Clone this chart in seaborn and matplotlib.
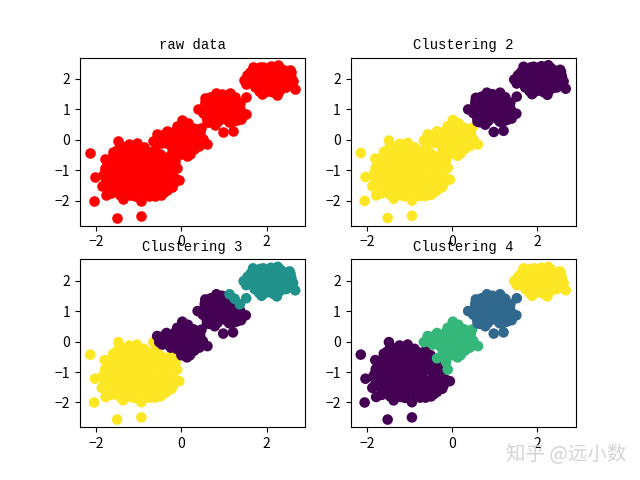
import matplotlib
matplotlib.use("Agg")
import matplotlib.pyplot as plt
import seaborn as sns

# lower left blob
lower_x = [-2.14, -2.03, -2.05, -1.51, -0.94, -1.78, -1.87, -1.80, -1.48, -1.23, -1.04, -1.37, -0.94, -0.49, -0.23, -0.05, -0.35,
           -1.62, -1.33, -1.12, -0.88, -0.66, -0.44, -1.70, -1.48, -1.27, -1.02, -0.74, -0.56, -0.30,
           -1.76, -1.53, -1.31, -1.08, -0.84, -0.61, -0.37, -0.19, -1.82, -1.58, -1.41, -1.16, -0.93, -0.70, -0.46, -0.26,
           -1.79, -1.56, -1.34, -1.09, -0.86, -0.59, -0.41, -1.64, -1.46, -1.21, -1.00, -0.76, -0.53, -0.36,
           -1.55, -1.31, -1.06, -0.83, -0.61, -1.52, -1.25, -0.99, -0.80, -1.45, -1.42, -1.18, -0.72, -1.67, -1.39,
           -1.58, -1.22, -1.00, -0.78, -0.55, -1.60, -1.37, -1.14, -0.90, -0.65, -0.42, -1.66, -1.44, -1.20, -0.96, -0.75, -0.50, -0.30,
           -1.70, -1.47, -1.24, -1.02, -0.78, -0.52, -0.33, -1.68, -1.50, -1.27, -1.03, -0.80, -0.63, -0.47, -1.55, -1.33, -1.13, -0.92, -0.68, -0.50,
           -1.42, -1.18, -0.92, -0.70, -1.38, -1.12, -0.88, -0.66, -1.62, -1.20, -0.75, -0.42, -1.45, -1.10, -0.62,
           -0.30, -0.15, -0.25, -0.42, -0.50, -0.20, -0.35, -0.60, -1.85, -1.80, -1.75, -1.65, -1.60, -1.65, -1.45, -0.62, -0.28]
lower_y = [-0.43, -1.22, -2.00, -2.56, -2.49, -1.82, -1.52, -0.61, -0.02, -0.13, -0.10, -1.93, -1.99, -1.80, -1.55, -1.30, -0.72,
           -1.72, -1.68, -1.74, -1.70, -1.75, -1.66, -1.50, -1.54, -1.46, -1.52, -1.48, -1.55, -1.44,
           -1.28, -1.33, -1.26, -1.31, -1.24, -1.34, -1.27, -1.38, -1.08, -1.12, -1.04, -1.10, -1.06, -1.13, -1.02, -1.16,
           -0.91, -0.86, -0.93, -0.88, -0.84, -0.92, -0.87, -0.72, -0.68, -0.74, -0.66, -0.71, -0.76, -0.92,
           -0.52, -0.47, -0.55, -0.49, -0.58, -0.33, -0.28, -0.31, -0.35, -0.18, -0.90, -0.60, -0.90, -1.20, -1.42,
           -1.60, -1.60, -1.63, -1.58, -1.62, -1.38, -1.40, -1.38, -1.42, -1.44, -1.34, -1.12, -1.18, -1.20, -1.18, -1.22, -1.26, -1.20,
           -0.98, -1.00, -1.00, -0.96, -0.98, -0.94, -1.00, -0.78, -0.82, -0.80, -0.80, -0.80, -0.80, -0.78, -0.64, -0.62, -0.64, -0.64, -0.66, -0.60,
           -0.42, -0.42, -0.44, -0.46, -0.22, -0.22, -0.24, -0.42, -1.62, -1.82, -1.84, -1.72, -1.78, -1.85, -1.84,
           -1.05, -1.25, -0.85, -0.62, -0.45, -1.45, -1.65, -1.75, -1.15, -1.40, -0.85, -0.60, -0.40, -1.75, -1.80, -0.30, -0.98]

# points between the lower left and middle blobs
bridge_x = [-0.10, -0.35, -0.10, -0.66, -0.22, -0.14]
bridge_y = [-0.92, -0.55, -0.45, -0.02, -0.40, -0.68]

middle_x = [-0.57, -0.35, 0.02, 0.47, 0.61, 0.13, -0.45, -0.25, -0.20, -0.05, 0.00, 0.00, 0.05, 0.15, 0.20, 0.20,
            0.35, 0.35, 0.42, -0.10, 0.12, -0.33, 0.50, 0.28, -0.12, 0.08,
            -0.52, -0.38, -0.15, -0.28, 0.05, 0.10, 0.25, 0.30, -0.02, -0.06, 0.18, 0.40, 0.02, -0.18, 0.12, 0.28, -0.42, 0.44,
            -0.40, -0.10, 0.35, 0.45, 0.50, 0.30, 0.20, 0.00, -0.25, -0.45, 0.15]
middle_y = [0.18, 0.28, 0.65, 0.39, -0.15, -0.52, 0.05, 0.20, -0.05, 0.35, 0.10, -0.15, 0.50, 0.30, 0.05, -0.25,
            0.20, -0.05, -0.20, -0.25, -0.40, -0.10, 0.02, 0.40, 0.12, -0.30,
            -0.02, 0.12, 0.30, 0.05, 0.25, -0.05, 0.22, 0.08, -0.05, 0.22, 0.42, 0.10, -0.30, -0.15, 0.18, -0.12, -0.06, 0.22,
            0.20, 0.45, 0.35, 0.00, -0.10, -0.30, -0.45, -0.45, -0.20, -0.10, 0.55]

upper_mid_x = [0.98, 1.21, 1.51, 0.38, 0.56, 0.82, 0.60, 0.78, 0.95, 1.12, 0.62, 0.80, 1.00, 1.18, 1.30, 0.58,
               0.74, 0.92, 1.10, 1.28, 0.65, 0.85, 1.05, 1.22, 0.78, 0.95, 1.30, 0.52, 0.70,
               0.68, 0.88, 1.06, 1.24, 0.55, 0.72, 0.90, 1.08, 1.38, 0.60, 0.82, 1.02, 1.20, 1.36, 0.70, 0.92, 1.12, 1.35, 0.50, 0.86, 1.16,
               1.40, 1.35, 1.20, 0.95, 0.60, 0.55]
upper_mid_y = [0.26, 0.30, 0.86, 1.00, 1.38, 1.55, 1.20, 1.30, 1.42, 1.25, 0.98, 1.10, 1.18, 1.02, 1.12, 0.78,
               0.85, 0.95, 0.82, 0.88, 0.58, 0.62, 0.70, 0.62, 0.50, 1.50, 0.66, 1.02, 1.42,
               1.40, 1.35, 1.38, 1.28, 1.18, 1.05, 1.02, 1.08, 1.00, 0.68, 0.75, 0.90, 0.75, 0.85, 0.72, 0.78, 0.60, 0.95, 0.88, 1.22, 1.14,
               0.70, 1.15, 1.28, 1.45, 0.60, 1.25]

# these fall into the top blob's cluster in the 3 cluster run
teal_x = [1.13, 1.37, 1.25, 1.52]
teal_y = [1.55, 1.22, 1.40, 1.42]

top_x = [2.67, 1.46, 1.68, 2.26, 2.54, 2.62, 1.88, 2.24, 1.62, 1.85, 2.05, 2.40, 1.58, 1.78, 2.00, 2.20, 2.42, 2.58,
         1.66, 1.90, 2.12, 2.34, 2.50, 1.72, 1.95, 2.15, 2.36, 1.82, 2.05, 2.28, 1.92, 2.10, 1.52, 1.55,
         1.72, 1.95, 2.15, 2.32, 2.48, 1.68, 1.88, 2.08, 2.30, 2.52, 1.60, 1.80, 2.02, 2.22, 2.44, 1.74, 1.98, 2.20, 2.40,
         1.84, 2.10, 2.32, 1.66, 1.94, 2.16, 1.78, 2.00, 2.46, 2.56, 1.76, 2.14]
top_y = [1.68, 1.98, 2.40, 2.45, 2.30, 1.92, 1.50, 1.48, 2.22, 2.38, 2.36, 2.28, 2.05, 2.15, 2.20, 2.25, 2.12, 2.08,
         1.88, 1.98, 2.02, 1.95, 1.82, 1.72, 1.80, 1.75, 1.70, 1.60, 1.62, 1.62, 2.40, 2.42, 1.85, 2.12,
         2.30, 2.28, 2.32, 2.36, 2.20, 2.12, 2.12, 2.12, 2.08, 2.00, 1.98, 2.00, 1.92, 1.86, 1.95, 1.80, 1.68, 1.64, 1.80,
         1.72, 1.86, 1.76, 2.02, 1.58, 1.56, 2.20, 2.04, 1.72, 2.22, 1.92, 2.22]

x = lower_x + bridge_x + middle_x + upper_mid_x + teal_x + top_x
y = lower_y + bridge_y + middle_y + upper_mid_y + teal_y + top_y

n_lower, n_bridge, n_middle = len(lower_x), len(bridge_x), len(middle_x)
n_upper, n_teal, n_top = len(upper_mid_x), len(teal_x), len(top_x)

labels_2 = [1] * (n_lower + n_bridge + n_middle) + [0] * (n_upper + n_teal + n_top)
labels_3 = [2] * (n_lower + n_bridge) + [0] * (n_middle + n_upper) + [1] * (n_teal + n_top)
labels_4 = [0] * n_lower + [2] * (n_bridge + n_middle) + [1] * (n_upper + n_teal) + [3] * n_top

palette_2 = ["#440154", "#fde725"]
palette_3 = ["#440154", "#21918c", "#fde725"]
palette_4 = ["#440154", "#31688e", "#35b779", "#fde725"]

panels = [
    ("raw data", None, None),
    ("Clustering 2", labels_2, palette_2),
    ("Clustering 3", labels_3, palette_3),
    ("Clustering 4", labels_4, palette_4),
]

plt.rcParams["font.family"] = ["Noto Sans CJK SC", "DejaVu Sans"]

fig, axes = plt.subplots(2, 2, figsize=(6.4, 4.8), dpi=100)

for ax, (title, labels, palette) in zip(axes.flat, panels):
    if labels is None:
        sns.scatterplot(x=x, y=y, color="red", s=58, linewidth=0, ax=ax)
    else:
        sns.scatterplot(x=x, y=y, hue=labels, palette=palette, s=58, linewidth=0, legend=False, ax=ax)
    ax.set_title(title, fontsize=10, family="Liberation Mono")
    ax.tick_params(labelsize=10)

fig.text(0.79, 0.042, "知乎 @远小数", fontsize=14, color="#d4d4d4")

fig.savefig("out.png", dpi=100)
